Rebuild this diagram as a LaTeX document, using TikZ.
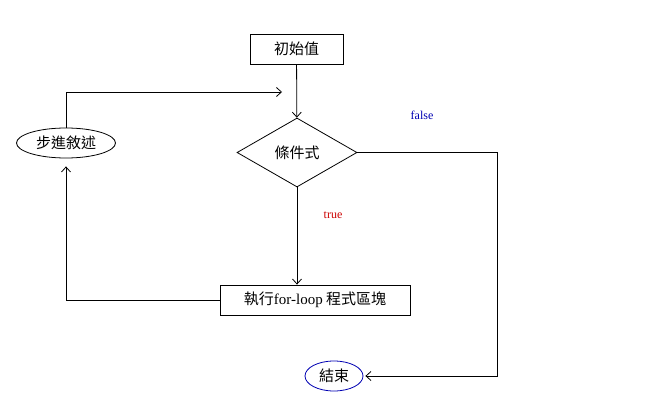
\documentclass[tikz,border=0pt]{standalone}
\usepackage{fontspec}
\setmainfont{Liberation Serif}
\newfontfamily\cjk{Noto Sans CJK TC}
\usetikzlibrary{shapes.geometric,positioning,arrows.meta}
\begin{document}
\begin{tikzpicture}[x=1pt,y=-1pt,
  box/.style={rectangle, draw, thick, inner sep=0pt, font=\cjk\fontsize{15}{15}\selectfont},
  cond/.style={diamond, draw, thick, aspect=1.75, inner sep=0pt, minimum width=120pt, minimum height=69pt, font=\cjk\fontsize{15}{15}\selectfont},
  oval/.style={ellipse, draw, thick, inner sep=0pt, font=\cjk\fontsize{15}{15}\selectfont},
  line/.style={thick, -{Straight Barb[length=5pt,width=9pt]}}]
  \useasboundingbox (0,0) rectangle (648,420);
  \node[box, minimum width=93pt, minimum height=30pt] (init) at (296.5,49) {初始值};
  \node[cond] (test) at (297,152.5) {條件式};
  \node[box, minimum width=190pt, minimum height=30pt] (body) at (315,300) {執行{\rmfamily for-loop} 程式區塊};
  \node[oval, minimum width=99pt, minimum height=30pt] (step) at (66,143) {步進敘述};
  \node[oval, draw=blue!70!black, minimum width=58pt, minimum height=30pt] (end) at (334,376) {結束};
  \node[text=blue!70!black, font=\fontsize{12}{12}\selectfont] (f) at (422,115) {false};
  \node[text=red!80!black, font=\fontsize{12}{12}\selectfont] (t) at (333,215) {true};
  \coordinate (join) at (282,92);

  \draw[line] (init) -- (test);
  \draw[line] (test) -- (body.north -| test);
  \draw[line] (test.east) -- (497,152.5) |- ([xshift=2pt]end.east);
  \draw[line, shorten >=8pt] (body.west) -| (step.south);
  \draw[line] (step.north) |- (join);
\end{tikzpicture}
\end{document}
